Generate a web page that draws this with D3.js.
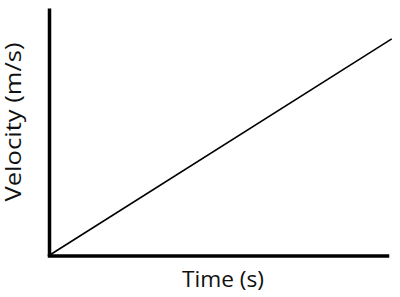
<!DOCTYPE html>
<html>
<head>
<meta charset="utf-8">
<script src="https://cdn.jsdelivr.net/npm/d3@7"></script>
<style>
  html, body { margin: 0; padding: 0; background: #fff; }
  text { font-family: "Open Sans", "Liberation Sans", sans-serif; fill: #111; }
</style>
</head>
<body>
<div id="chart"></div>
<script>
// data (arbitrary units, axes carry no ticks)
const times = [0, 10.14];
const velocities = [0, 8.75];
const xLabel = "Time (s)";
const yLabel = "Velocity (m/s)";

const W = 400, H = 297;
const margin = { top: 8, right: 13, bottom: 41.5, left: 49 };
const width = W - margin.left - margin.right,
    height = H - margin.top - margin.bottom;

const x = d3.scaleLinear().domain([0, 10]).range([0, width]);
const y = d3.scaleLinear().domain([0, 10]).range([height, 0]);

const svg = d3.select("#chart").append("svg")
    .attr("width", W)
    .attr("height", H)
    .append("g")
    .attr("transform", `translate(${margin.left},${margin.top})`);

// data line
const pts = times.map((t, i) => ({ t: t, v: velocities[i] }));
svg.append("path")
    .datum(pts)
    .attr("d", d3.line().x(d => x(d.t)).y(d => y(d.v)))
    .style("fill", "none")
    .style("stroke", "#000")
    .style("stroke-width", 1.6);

// y axis: plain thick line, no ticks
svg.append("g")
    .attr("class", "y axis")
    .call(d3.axisLeft(y).tickValues([]).tickSizeOuter(0))
    .select(".domain")
    .style("stroke", "#000")
    .style("stroke-width", 3.5);

// x axis
svg.append("g")
    .attr("class", "x axis")
    .attr("transform", `translate(0,${height})`)
    .call(d3.axisBottom(x).tickValues([]).tickSizeOuter(0))
    .select(".domain")
    .style("stroke", "#000")
    .style("stroke-width", 3.5)
    .style("stroke-linecap", "square");

svg.append("text")
    .attr("x", 174)
    .attr("y", height + 31)
    .style("text-anchor", "middle")
    .style("font-size", "22px")
    .attr("textLength", 82)
    .attr("lengthAdjust", "spacingAndGlyphs")
    .text(xLabel);

svg.append("text")
    .attr("transform", "rotate(-90)")
    .attr("x", -114)
    .attr("y", -28.5)
    .style("text-anchor", "middle")
    .style("font-size", "22px")
    .attr("textLength", 159)
    .attr("lengthAdjust", "spacingAndGlyphs")
    .text(yLabel);
</script>
</body>
</html>
